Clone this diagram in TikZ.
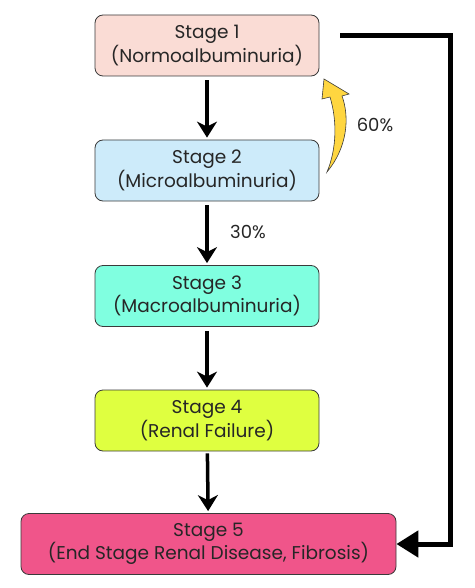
\documentclass[tikz,border=0pt]{standalone}
\usepackage{fontspec}
\setmainfont{Poppins}
\usetikzlibrary{arrows.meta}
\definecolor{normo}{HTML}{FADCD5}
\definecolor{micro}{HTML}{CDEBFA}
\definecolor{macro}{HTML}{80FFE0}
\definecolor{failure}{HTML}{DFFF40}
\definecolor{esrd}{HTML}{F0558A}
\definecolor{edge}{HTML}{3A3A3A}
\definecolor{regress}{HTML}{FFD640}
\tikzset{stagebox/.style={text=black!85,draw=edge,line width=0.8pt,rectangle,rounded corners=8pt,minimum width=224pt,minimum height=61pt,align=center,font=\fontsize{18.5}{22}\selectfont}}
\tikzset{down/.style={-{Stealth[length=16pt,width=20pt,inset=5pt]},line width=3.5pt,black}}
\tikzset{loopline/.style={-{Triangle[length=22pt,width=26pt]},line width=5pt,black}}
\tikzset{pct/.style={text=black!85,font=\fontsize{18}{22}\selectfont}}

\begin{document}
\begin{tikzpicture}[x=1pt,y=-1pt]
    \useasboundingbox (0,0) rectangle (474,588);

    \node[stagebox,fill=normo] (s1) at (207,45.5) {Stage 1\\(Normoalbuminuria)};
    \node[stagebox,fill=micro] (s2) at (207,170.5) {Stage 2\\(Microalbuminuria)};
    \node[stagebox,fill=macro] (s3) at (207,296) {Stage 3\\(Macroalbuminuria)};
    \node[stagebox,fill=failure] (s4) at (207,420.5) {Stage 4\\(Renal Failure)};
    \node[stagebox,fill=esrd,minimum width=375pt] (s5) at (208.5,544)
    {Stage 5\\(End Stage Renal Disease, Fibrosis)};

    \draw[down,shorten <=4pt,shorten >=2pt] (s1) -- (s2);
    \draw[down,shorten <=4pt,shorten >=2pt] (s2) -- (s3);
    \draw[down,shorten <=4pt,shorten >=2pt] (s3) -- (s4);
    \draw[down,shorten <=2pt,shorten >=2pt] (s4) -- (s5);

    \node[pct] (p30) at (248,232) {30\%};
    \node[pct] (p60) at (375,125) {60\%};

    % back to stage 1
    \fill[regress,draw=edge,line width=0.6pt] (327,172)
      .. controls (347,148) and (350,118) .. (342,96)
      -- (349,94) -- (324,79) -- (322,99) -- (330,97)
      .. controls (337,120) and (337,148) .. cycle;

    % stage 1 straight to stage 5
    \coordinate (corner) at (450,35.5);
    \draw[loopline] ([xshift=21pt,yshift=10pt]s1.east) -- (corner) |- (s5.east);

  \end{tikzpicture}
\end{document}
